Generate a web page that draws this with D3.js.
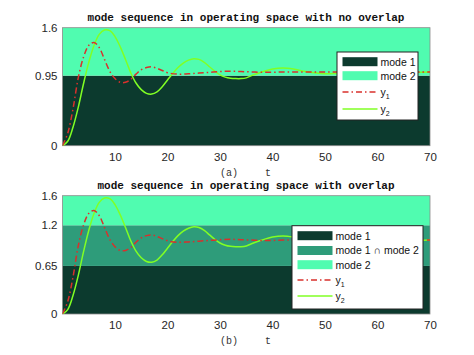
<!DOCTYPE html>
<html>
<head>
<meta charset="utf-8">
<script src="https://cdn.jsdelivr.net/npm/d3@7"></script>
<style>
body { margin: 0; background: #fff; }
svg { display: block; }
</style>
</head>
<body>
<svg></svg>
<script>
// values
const tRed = [0,1,2,3,4,5,6,7,8,9,10,11,12,13,14,15,16,17,18,19,20,
  22,24,26,28,30,32,34,36,38,40,42,44,46,48,50,52,54,56,58,60,62,64,66,68,70];
const y1 = [0,0.17,0.50,0.92,1.20,1.36,1.40,1.33,1.17,1.01,0.91,0.86,0.86,0.90,0.97,1.03,1.06,1.07,1.05,1.02,0.99,
  0.97,0.975,0.985,0.995,1.005,1.01,1.005,1.0,0.995,0.995,1.0,1.0,1.0,1.0,1.0,1.0,1.0,1.0,1.0,1.0,1.0,1.0,1.0,1.0,1.0];

const tGreen = [0,1,2,3,4,5,6,7,8,9,10,11,12,13,14,15,16,17,18,19,20,21,22,23,24,25,26,27,28,29,30,31,32,33,34,35,36,
  38,40,42,44,46,48,50,52,54,56,58,60,62,64,66,68,70];
const y2 = [0,0.06,0.25,0.52,0.84,1.13,1.36,1.51,1.57,1.56,1.48,1.34,1.17,0.99,0.85,0.76,0.71,0.70,0.73,0.80,0.89,0.98,1.06,1.12,1.16,1.18,1.17,1.13,1.07,1.01,0.96,0.93,0.915,0.91,0.91,0.92,0.95,
  1.0,1.04,1.055,1.04,1.01,0.99,0.975,0.98,0.99,1.0,1.01,1.01,1.005,1.0,0.995,0.995,1.0];

const xTicks = [10, 20, 30, 40, 50, 60, 70];
const yTicksA = [0, 0.95, 1.6];
const yTicksB = [0, 0.65, 1.2, 1.6];

const colMode1 = "#0c3a2e", colMode2 = "#50fcb0", colBoth = "#2e9c7a";
const colRed = "#d9302c", colGreen = "#80ff24";

const panels = [
  { title: "mode sequence in operating space with no overlap", tag: "(a)", top: 27.7, bottom: 145.7,
    yTicks: yTicksA,
    bands: [{ from: 0, to: 0.95, c: colMode1 }, { from: 0.95, to: 1.6, c: colMode2 }],
    legend: [{ type: "box", c: colMode1, label: "mode 1" }, { type: "box", c: colMode2, label: "mode 2" },
             { type: "red", label: "y", sub: "1" }, { type: "green", label: "y", sub: "2" }],
    lg: { x: 337, y: 52, w: 81, h: 68, rows: [61.7, 75.7, 92, 109] } },
  { title: "mode sequence in operating space with overlap", tag: "(b)", top: 195.7, bottom: 314,
    yTicks: yTicksB,
    bands: [{ from: 0, to: 0.65, c: colMode1 }, { from: 0.65, to: 1.2, c: colBoth }, { from: 1.2, to: 1.6, c: colMode2 }],
    legend: [{ type: "box", c: colMode1, label: "mode 1" }, { type: "box", c: colBoth, label: "mode 1 \u2229 mode 2" },
             { type: "box", c: colMode2, label: "mode 2" },
             { type: "red", label: "y", sub: "1" }, { type: "green", label: "y", sub: "2" }],
    lg: { x: 292, y: 225.7, w: 131, h: 83.3, rows: [235.7, 250.5, 264.7, 280, 296] } }
];

const svg = d3.select("svg").attr("width", 474).attr("height", 355);
const x = d3.scaleLinear().domain([0, 70]).range([62.5, 430]);

panels.forEach((p, i) => {
  const y = d3.scaleLinear().domain([0, 1.6]).range([p.bottom, p.top]);
  const g = svg.append("g");

  g.selectAll(".band").data(p.bands).enter().append("rect")
    .attr("x", x(0)).attr("width", x(70) - x(0))
    .attr("y", d => y(d.to)).attr("height", d => y(d.from) - y(d.to))
    .attr("fill", d => d.c);

  g.append("rect").attr("x", x(0)).attr("y", p.top)
    .attr("width", x(70) - x(0)).attr("height", p.bottom - p.top)
    .attr("fill", "none").attr("stroke", "#8a8a8a").attr("stroke-width", 0.8);

  const clipId = "clip" + i;
  g.append("clipPath").attr("id", clipId).append("rect")
    .attr("x", x(0)).attr("y", p.top).attr("width", x(70) - x(0)).attr("height", p.bottom - p.top);

  const line = d3.line().x(d => x(d[0])).y(d => y(d[1])).curve(d3.curveCatmullRom.alpha(0.5));
  g.append("path").datum(d3.zip(tGreen, y2)).attr("d", line).attr("clip-path", `url(#${clipId})`)
    .attr("fill", "none").attr("stroke", colGreen).attr("stroke-width", 1.5);
  g.append("path").datum(d3.zip(tRed, y1)).attr("d", line).attr("clip-path", `url(#${clipId})`)
    .attr("fill", "none").attr("stroke", colRed).attr("stroke-width", 1.5)
    .attr("stroke-dasharray", "6,3,1.5,3");

  const yAxis = g.append("g").attr("transform", `translate(${x(0)},0)`)
    .call(d3.axisLeft(y).tickValues(p.yTicks).tickFormat(d => String(d)).tickSize(0).tickPadding(5));
  yAxis.select(".domain").remove();
  yAxis.selectAll("text").attr("font-family", "Liberation Sans, Arial, sans-serif").attr("font-size", 11.5).attr("fill", "#262626");

  const xAxis = g.append("g").attr("transform", `translate(0,${p.bottom})`)
    .call(d3.axisBottom(x).tickValues(xTicks).tickSize(0).tickPadding(7));
  xAxis.select(".domain").remove();
  xAxis.selectAll("text").attr("font-family", "Liberation Sans, Arial, sans-serif").attr("font-size", 11.5).attr("fill", "#262626");

  g.append("text").attr("x", 246).attr("y", p.top - 7).attr("text-anchor", "middle")
    .attr("font-family", "Liberation Mono, Courier New, monospace").attr("font-weight", "bold")
    .attr("font-size", 11).attr("fill", "#111").text(p.title);

  g.append("text").attr("x", 229).attr("y", p.bottom + 30).attr("text-anchor", "middle")
    .attr("font-family", "Liberation Mono, Courier New, monospace").attr("font-size", 10)
    .attr("fill", "#333").text(p.tag);
  g.append("text").attr("x", 268).attr("y", p.bottom + 30).attr("text-anchor", "middle")
    .attr("font-family", "Liberation Mono, Courier New, monospace").attr("font-size", 10)
    .attr("fill", "#333").text("t");

  // legend
  const lg = g.append("g");
  lg.append("rect").attr("x", p.lg.x).attr("y", p.lg.y).attr("width", p.lg.w).attr("height", p.lg.h)
    .attr("fill", "#fff").attr("stroke", "#222").attr("stroke-width", 1);
  const sx0 = p.lg.x + 5.5, sx1 = p.lg.x + 40.5;
  p.legend.forEach((e, k) => {
    const cy = p.lg.rows[k];
    if (e.type === "box") {
      lg.append("rect").attr("x", sx0).attr("y", cy - 4.5).attr("width", sx1 - sx0).attr("height", 9).attr("fill", e.c);
    } else {
      lg.append("line").attr("x1", sx0).attr("x2", sx1).attr("y1", cy).attr("y2", cy)
        .attr("stroke", e.type === "red" ? colRed : colGreen).attr("stroke-width", 1.3)
        .attr("stroke-dasharray", e.type === "red" ? "6,3,1.5,3" : null);
    }
    const t = lg.append("text").attr("x", sx1 + 3).attr("y", cy + 3.8)
      .attr("font-family", "Liberation Sans, Arial, sans-serif").attr("font-size", 10.5).attr("fill", "#111");
    t.append("tspan").text(e.label);
    if (e.sub) t.append("tspan").attr("font-size", 7).attr("dy", 3).text(e.sub);
  });
});
</script>
</body>
</html>
